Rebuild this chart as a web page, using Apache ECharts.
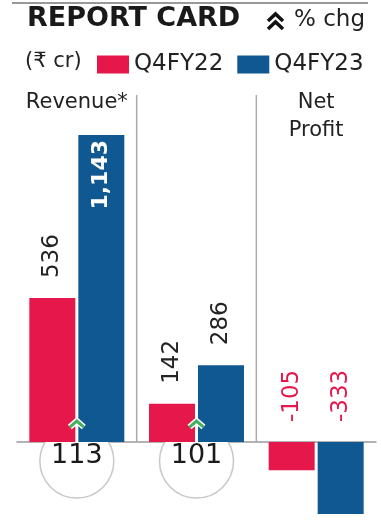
<!DOCTYPE html>
<html><head><meta charset="utf-8">
<script src="https://cdn.jsdelivr.net/npm/echarts@6/dist/echarts.min.js"></script>
<style>html,body{margin:0;padding:0;background:#fff}#c{width:381px;height:521px}</style>
</head><body><div id="c"></div>
<script>
var categories = ['Revenue*', 'Ebitda', 'Net\nProfit'];
var q4fy22 = [536, 142, -105];
var q4fy23 = [1143, 286, -333];
var pctChg = [113, 101, null];
var seriesNames = ['Q4FY22', 'Q4FY23'];

var RED = '#e5174b', BLUE = '#0f5891', TXT = '#222', F = 'DejaVu Sans';
var chart = echarts.init(document.getElementById('c'), null, {renderer: 'canvas'});

function fmt(p) { return Number(p.value).toLocaleString('en-US'); }
function mkData(arr, isBlue) {
  return arr.map(function (v) {
    var lab;
    if (v < 0) {
      lab = {position: 'top', distance: 20, align: 'left', verticalAlign: 'middle', color: RED};
    } else if (isBlue && v > 1000) {
      lab = {position: 'insideTop', distance: 5, align: 'right', verticalAlign: 'middle', color: '#fff', fontWeight: 'bold', fontSize: 22};
    } else {
      lab = {position: 'top', distance: 20, align: 'left', verticalAlign: 'middle', color: TXT};
    }
    return {value: v, label: lab};
  });
}
var baseLabel = {show: true, rotate: 90, fontFamily: F, fontSize: 23, formatter: fmt};

chart.setOption({
  animation: false,
  textStyle: {fontFamily: F},
  grid: {left: 17, right: 5, top: 135, bottom: 7},
  legend: {
    data: seriesNames, left: 92, top: 48, itemWidth: 32, itemHeight: 18, itemGap: 14,
    icon: 'rect', textStyle: {fontFamily: F, fontSize: 23, color: TXT}
  },
  xAxis: [{
    type: 'category', data: categories,
    axisLine: {show: true, onZero: true, lineStyle: {color: '#9a9a9a', width: 1.5}},
    axisTick: {show: false}, axisLabel: {show: false}, splitLine: {show: false}
  }, {
    type: 'category', data: categories, position: 'top',
    axisLine: {show: false}, axisTick: {show: false},
    axisLabel: {show: true, margin: 46, verticalAlign: 'top', fontFamily: F, fontSize: 21, color: TXT, lineHeight: 28}
  }],
  yAxis: {type: 'value', min: -268, max: 1143, show: false, splitLine: {show: false}},
  series: [{
    name: seriesNames[0], type: 'bar', data: mkData(q4fy22, false), barWidth: 46, barGap: '6.5%',
    itemStyle: {color: RED}, label: baseLabel, z: 2
  }, {
    name: seriesNames[1], type: 'bar', data: mkData(q4fy23, true), barWidth: 46, barGap: '6.5%',
    itemStyle: {color: BLUE}, label: baseLabel, z: 2
  }]
});

function px(i, v) { return chart.convertToPixel({xAxisIndex: 0, yAxisIndex: 0}, [i, v]); }
var g = [];
var zero = px(0, 0);
g.push({type: 'line', shape: {x1: 12, y1: 3, x2: 368, y2: 3}, style: {stroke: '#999', lineWidth: 2}, z: 5});
g.push({type: 'text', left: 27, top: 5, style: {text: 'REPORT CARD', font: 'bold 27px "' + F + '"', fill: '#1a1a1a'}, z: 5});
g.push({type: 'polyline', shape: {points: [[268, 21], [275.5, 14], [283, 21]]}, style: {stroke: '#111', lineWidth: 3.5, fill: null}, z: 5});
g.push({type: 'polyline', shape: {points: [[268, 29], [275.5, 22], [283, 29]]}, style: {stroke: '#111', lineWidth: 3.5, fill: null}, z: 5});
g.push({type: 'text', left: 294, top: 9, style: {text: '% chg', font: '23px "' + F + '"', fill: TXT}, z: 5});
g.push({type: 'text', left: 25, top: 51, style: {text: '(₹ cr)', font: '21px "' + F + '"', fill: TXT}, z: 5});
for (var i = 0; i < categories.length - 1; i++) {
  var a = px(i, 0)[0], b = px(i + 1, 0)[0];
  var xm = (a + b) / 2;
  g.push({type: 'line', shape: {x1: xm, y1: 95, x2: xm, y2: zero[1]}, style: {stroke: '#aaa', lineWidth: 1.5}, z: 1});
}
pctChg.forEach(function (v, i) {
  if (v == null) return;
  var c = px(i, 0);
  g.push({type: 'circle', shape: {cx: c[0], cy: c[1] + 19, r: 37}, style: {fill: '#fff', stroke: '#c8c8c8', lineWidth: 1.5}, z: 1});
  g.push({type: 'text', x: c[0], y: c[1] + 14, style: {text: String(v), font: '27px "' + F + '"', fill: '#1a1a1a', align: 'center', verticalAlign: 'middle'}, z: 10});
  g.push({type: 'polyline', shape: {points: [[c[0] - 7, c[1] - 15], [c[0], c[1] - 21], [c[0] + 7, c[1] - 15]]}, style: {stroke: '#fff', lineWidth: 6, fill: null}, z: 9});
  g.push({type: 'polyline', shape: {points: [[c[0] - 7, c[1] - 15], [c[0], c[1] - 21], [c[0] + 7, c[1] - 15]]}, style: {stroke: '#43b060', lineWidth: 3, fill: null}, z: 10});
});
chart.setOption({graphic: g});
</script></body></html>
